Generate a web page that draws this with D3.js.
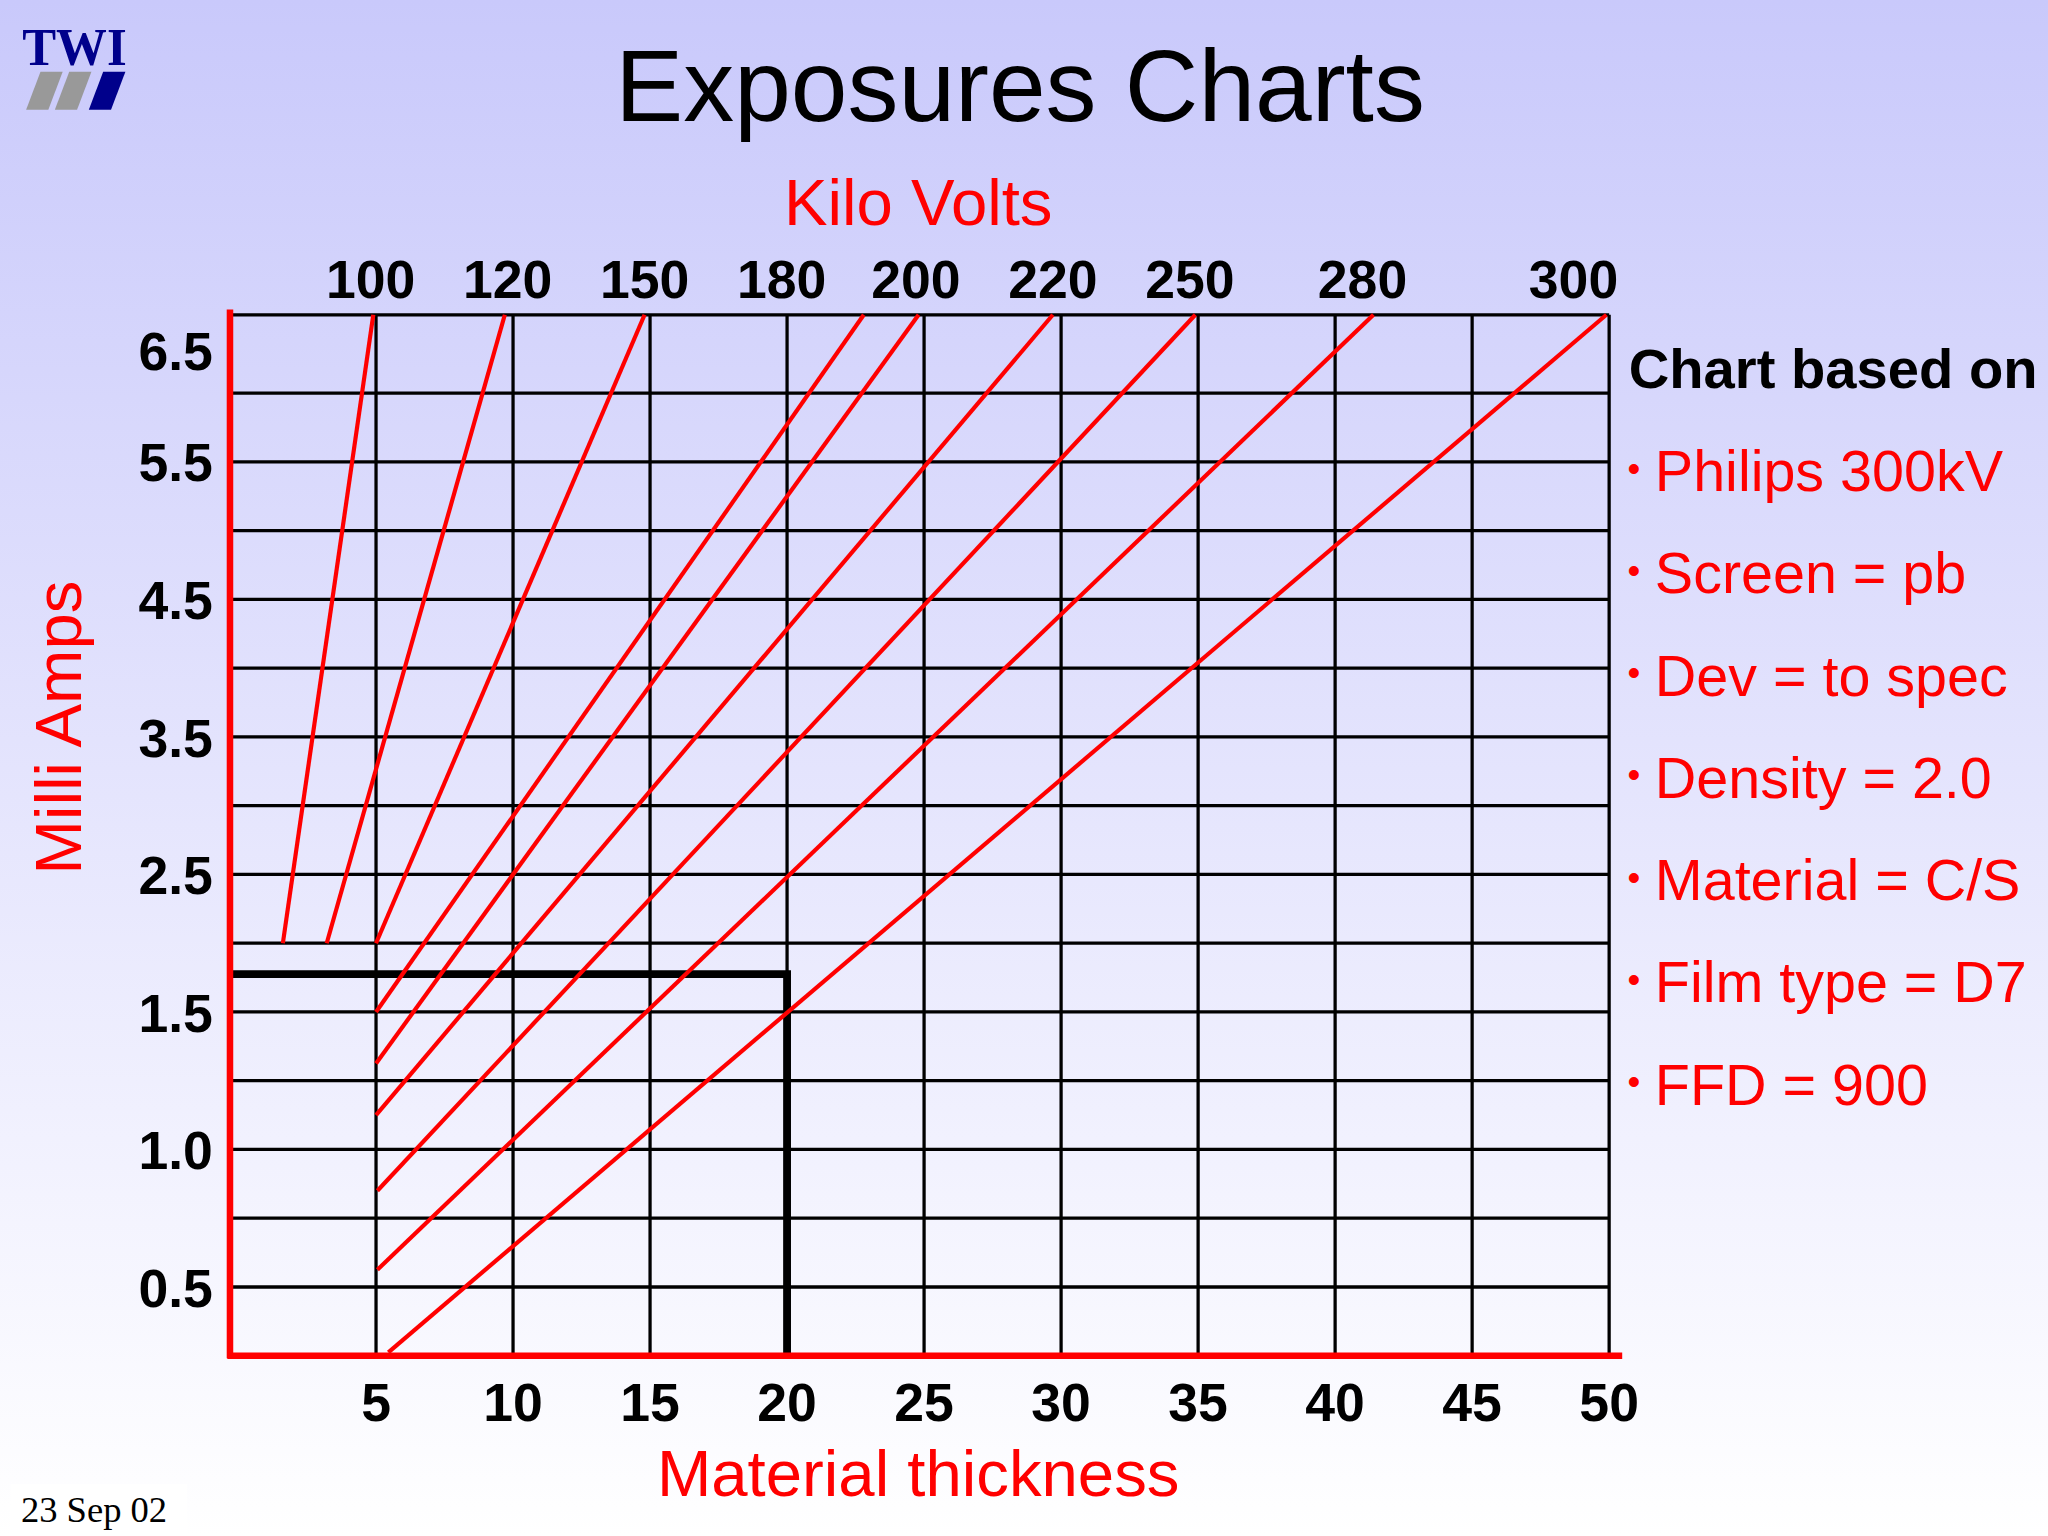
<!DOCTYPE html>
<html><head><meta charset="utf-8">
<script src="https://cdn.jsdelivr.net/npm/d3@7"></script>
<style>body{margin:0;}svg{display:block;}</style>
</head><body>
<script>
// Data
const kvLabels = ["100","120","150","180","200","220","250","280","300"];
const kvLabelX = [4.8, 9.8, 14.8, 19.8, 24.7, 29.7, 34.7, 41.0, 48.7];
const kvStart = [[1.6,6],[3.2,6],[5,6],[5,5],[5,4.25],[5,3.5],[5.05,2.4],[5.05,1.25],[5.45,0.05]];
const kvEnd = [[4.9,15],[9.7,15],[14.8,15],[22.8,15],[24.8,15],[29.7,15],[34.9,15],[41.4,15],[49.9,15]];
const thicknessTicks = [5,10,15,20,25,30,35,40,45,50];
const maTicks = ["0.5","1.0","1.5","2.5","3.5","4.5","5.5","6.5"];
const maTickRow = [1,3,5,7,9,11,13,14.55];
const gridRows = d3.range(0,16);
const exampleThickness = 20, exampleRow = 5.55;
const notes = ["Philips 300kV","Screen = pb","Dev = to spec","Density = 2.0","Material = C/S","Film type = D7","FFD = 900"];

const svg = d3.select("body").append("svg").attr("width",2048).attr("height",1536).attr("viewBox","0 0 1568 1176");
const defs = svg.append("defs");
const g = defs.append("linearGradient").attr("id","bg").attr("x1",0).attr("y1",0).attr("x2",0).attr("y2",1);
g.append("stop").attr("offset","0").attr("stop-color","#c9c9fb");
g.append("stop").attr("offset","1").attr("stop-color","#ffffff");
svg.append("rect").attr("width",1568).attr("height",1176).attr("fill","url(#bg)");

// logo
svg.append("text").attr("x",17).attr("y",50).attr("font-family","Liberation Serif").attr("font-weight","bold").attr("font-size",40).attr("fill","#00008b").attr("textLength",80).attr("lengthAdjust","spacingAndGlyphs").text("TWI");
const stripes=[[31,"#999"],[53,"#999"],[79,"#00008b"]];
stripes.forEach(([x,c])=>svg.append("path").attr("d",`M${x},55 L${x+17},55 L${x+6},84 L${x-11},84 Z`).attr("fill",c));

svg.append("text").attr("x",781).attr("y",93).attr("text-anchor","middle").attr("font-family","Liberation Sans").attr("font-size",78).text("Exposures Charts");
svg.append("text").attr("x",703).attr("y",172).attr("text-anchor","middle").attr("font-family","Liberation Sans").attr("font-size",50).attr("fill","#ff0000").text("Kilo Volts");

const x = d3.scaleLinear().domain([0,50]).range([183,1232]);
const y = d3.scaleLinear().domain([0,14,15]).range([1038,301,241]);
const L = x(-0.33);

svg.selectAll(".hg").data(gridRows.slice(1)).join("line").attr("x1",L).attr("x2",x(50)).attr("y1",d=>y(d)).attr("y2",d=>y(d)).attr("stroke","#000").attr("stroke-width",2.5);
svg.selectAll(".vg").data(thicknessTicks).join("line").attr("x1",d=>x(d)).attr("x2",d=>x(d)).attr("y1",y(15)).attr("y2",y(0)).attr("stroke","#000").attr("stroke-width",2.5);

svg.append("path").attr("d",`M${L},${y(exampleRow)} H${x(exampleThickness)} V${y(0)}`).attr("fill","none").attr("stroke","#000").attr("stroke-width",6);

svg.selectAll(".kv").data(kvStart).join("line").attr("x1",d=>x(d[0])).attr("y1",d=>y(d[1]))
 .attr("x2",(d,i)=>x(kvEnd[i][0])).attr("y2",(d,i)=>y(kvEnd[i][1])).attr("stroke","#ff0000").attr("stroke-width",3.2);

svg.append("line").attr("x1",L).attr("x2",L).attr("y1",237).attr("y2",y(0)+2).attr("stroke","#ff0000").attr("stroke-width",5);
svg.append("line").attr("x1",L-2).attr("x2",x(50)+10).attr("y1",y(0)).attr("y2",y(0)).attr("stroke","#ff0000").attr("stroke-width",5);

const bold = s=>s.attr("font-family","Liberation Sans").attr("font-weight","bold");
bold(svg.selectAll(".kvl").data(kvLabels).join("text")).attr("x",(d,i)=>x(kvLabelX[i])).attr("y",228).attr("text-anchor","middle").attr("font-size",41).text(d=>d);
bold(svg.selectAll(".xl").data(thicknessTicks).join("text")).attr("x",d=>x(d)).attr("y",1088).attr("text-anchor","middle").attr("font-size",41).text(d=>d);
bold(svg.selectAll(".yl").data(maTicks).join("text")).attr("x",163).attr("y",(d,i)=>y(maTickRow[i])+15).attr("text-anchor","end").attr("font-size",41).text(d=>d);

svg.append("text").attr("x",703).attr("y",1145).attr("text-anchor","middle").attr("font-family","Liberation Sans").attr("font-size",50).attr("fill","#ff0000").text("Material thickness");
svg.append("text").attr("transform","translate(62,557) rotate(-90)").attr("text-anchor","middle").attr("font-family","Liberation Sans").attr("font-size",50).attr("fill","#ff0000").text("Milli Amps");

bold(svg.append("text")).attr("x",1247).attr("y",297).attr("font-size",43).text("Chart based on");
const nt = svg.selectAll(".nt").data(notes).join("g").attr("transform",(d,i)=>`translate(0,${376+i*78.3})`);
nt.append("text").attr("x",1246).attr("y",-8).attr("font-family","Liberation Sans").attr("font-size",28).attr("fill","#ff0000").text("\u2022");
nt.append("text").attr("x",1267).attr("y",0).attr("font-family","Liberation Sans").attr("font-size",44).attr("fill","#ff0000").text(d=>d);

svg.append("rect").attr("x",8).attr("y",1136).attr("width",135).attr("height",40).attr("fill","#fff");
svg.append("text").attr("x",16).attr("y",1165).attr("font-family","Liberation Serif").attr("font-size",28).text("23 Sep 02");
</script>
</body></html>
